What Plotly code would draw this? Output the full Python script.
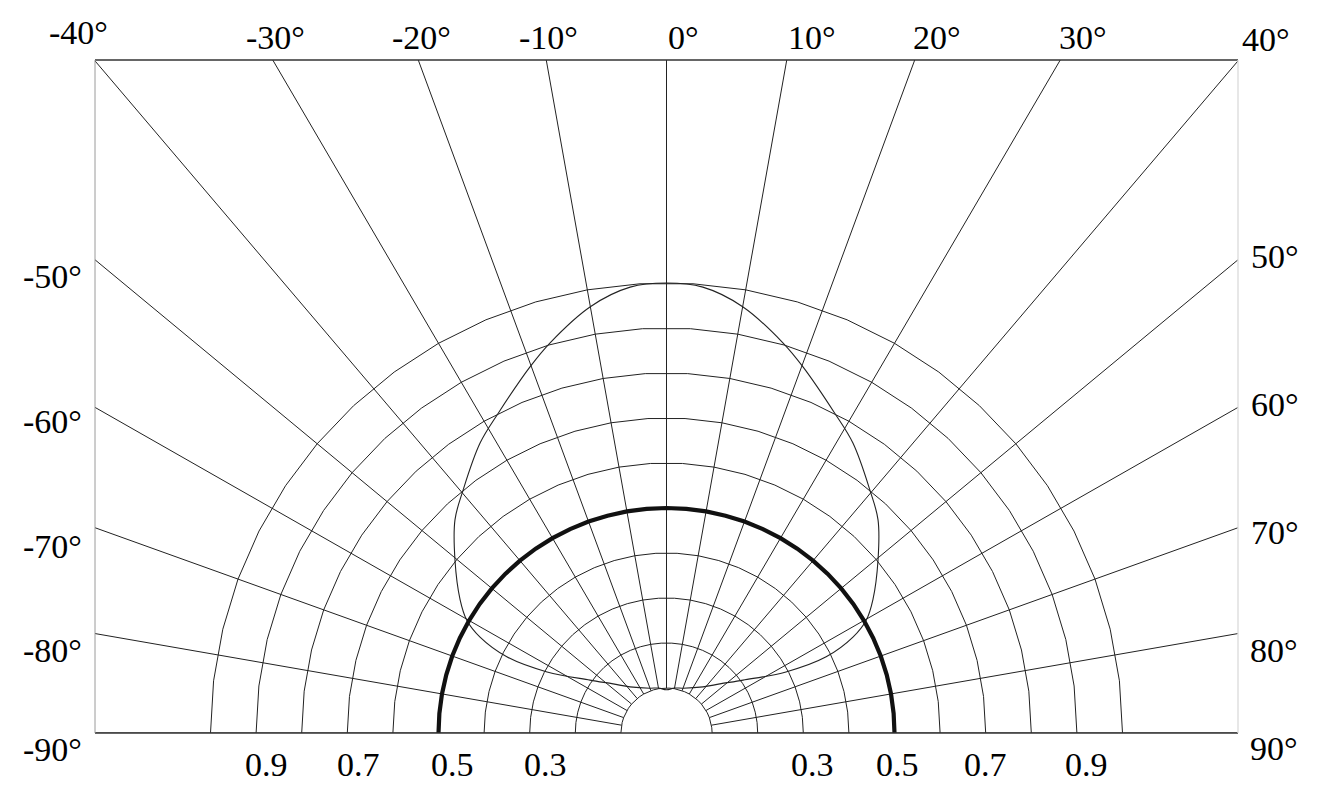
import numpy as np
import plotly.graph_objects as go

# ---------------- data ----------------
ring_values = [0.1, 0.2, 0.3, 0.4, 0.5, 0.6, 0.7, 0.8, 0.9, 1.0]
spoke_angles = [-90, -80, -70, -60, -50, -40, -30, -20, -10, 0, 10, 20, 30, 40, 50, 60, 70, 80, 90]

top_labels = ["-40°", "-30°", "-20°", "-10°", "0°", "10°", "20°", "30°", "40°"]
left_labels = ["-50°", "-60°", "-70°", "-80°", "-90°"]
right_labels = ["50°", "60°", "70°", "80°", "90°"]
bottom_labels = ["0.9", "0.7", "0.5", "0.3", "0.3", "0.5", "0.7", "0.9"]

# thick curve (intensity ~0.5 over the whole half plane)
thick_angles = [-90, -85, -80, -75, -70, -65, -60, -55, -50, -45, -40, -35, -30, -25, -20, -15, -10, -5, 0,
                5, 10, 15, 20, 25, 30, 35, 40, 45, 50, 55, 60, 65, 70, 75, 80, 85, 90]
thick_r = [0.50, 0.50, 0.50, 0.50, 0.50, 0.50, 0.50, 0.50, 0.50, 0.50, 0.50, 0.50, 0.50, 0.50, 0.50, 0.50, 0.50, 0.50, 0.50,
           0.50, 0.50, 0.50, 0.50, 0.50, 0.50, 0.50, 0.50, 0.50, 0.50, 0.50, 0.50, 0.50, 0.50, 0.50, 0.50, 0.50, 0.50]

# thin closed curve (angle in degrees, relative value)
thin_angles = [0, -10, -20, -38, -47, -55, -62.6, -64.2, -62.5, -60.2, -56.8, -50.4, -44.4, -39.6, -32.4, -27.4,
               -20.2, -16.4, -10.0, -4.6, 0, 4.6, 10.0, 16.4, 20.2, 27.4, 32.4, 39.6, 44.4, 50.4, 56.8, 60.2,
               62.5, 64.2, 62.6, 55, 47, 38, 20, 10, 0]
thin_r = [0.096, 0.1015, 0.106, 0.130, 0.160, 0.205, 0.295, 0.389, 0.461, 0.505, 0.541, 0.602, 0.663, 0.700, 0.763, 0.801,
          0.867, 0.904, 0.962, 0.994, 1.0, 0.994, 0.962, 0.904, 0.867, 0.801, 0.763, 0.700, 0.663, 0.602, 0.541, 0.505,
          0.461, 0.389, 0.295, 0.205, 0.160, 0.130, 0.106, 0.1015, 0.096]

# ---------------- layout constants ----------------
X_MAX = 1.2533
Y_MAX = 1.4956
PAGE_OFF = 8  # default body margin of the html page
PLOT_L, PLOT_T, PLOT_W, PLOT_H = 95, 60, 1143, 673
FIG_W, FIG_H = 1324, 784


def to_xy(ang, r):
    a = np.radians(np.asarray(ang, dtype=float))
    r = np.asarray(r, dtype=float)
    return r * np.sin(a), r * np.cos(a)


fig = go.Figure()

# rings
rx, ry = [], []
seg = np.linspace(-90, 90, 28)
for rv in ring_values:
    x, y = to_xy(seg, np.full(seg.shape, rv))
    rx += list(x) + [None]
    ry += list(y) + [None]
fig.add_trace(go.Scatter(x=rx, y=ry, mode="lines", line=dict(color="#222222", width=1), hoverinfo="skip"))

# spokes from inner ring to the frame
sx, sy = [], []
for a in spoke_angles:
    s, c = np.sin(np.radians(a)), np.cos(np.radians(a))
    lims = []
    if abs(s) > 1e-9:
        lims.append(X_MAX / abs(s))
    if c > 1e-9:
        lims.append(Y_MAX / c)
    t_end = min(lims)
    sx += [ring_values[0] * s, t_end * s, None]
    sy += [ring_values[0] * c, t_end * c, None]
fig.add_trace(go.Scatter(x=sx, y=sy, mode="lines", line=dict(color="#222222", width=1), hoverinfo="skip"))

# thin curve
tx, ty = to_xy(thin_angles, thin_r)
fig.add_trace(go.Scatter(x=tx, y=ty, mode="lines", line=dict(color="#222222", width=1.1, shape="spline", smoothing=1.0),
                         hoverinfo="skip"))

# thick curve
kx, ky = to_xy(thick_angles, thick_r)
fig.add_trace(go.Scatter(x=kx, y=ky, mode="lines", line=dict(color="#111111", width=4.2), hoverinfo="skip"))

# frame
shapes = [
    dict(type="line", xref="paper", yref="paper", x0=0, y0=1, x1=1, y1=1, line=dict(color="#333333", width=1.4)),
    dict(type="line", xref="paper", yref="paper", x0=0, y0=0, x1=1, y1=0, line=dict(color="#333333", width=1.6)),
    dict(type="line", xref="paper", yref="paper", x0=0, y0=0, x1=0, y1=1, line=dict(color="#9a9a9a", width=1)),
    dict(type="line", xref="paper", yref="paper", x0=1, y0=0, x1=1, y1=1, line=dict(color="#dddddd", width=1.4)),
]


def px2paper(px, py):
    return (px - PLOT_L) / PLOT_W, (PLOT_T + PLOT_H - py) / PLOT_H


FONT = dict(family="Liberation Serif, Times New Roman, serif", size=34, color="black")
top_pos = [(78, 33), (275, 38), (421, 38), (548, 38), (683, 38), (812, 38), (937, 38), (1083, 38), (1266, 39)]
left_pos = [(52, 276), (52, 421), (52, 546), (52, 650), (52, 749)]
right_pos = [(1275, 257), (1275, 405), (1275, 532), (1274, 650), (1274, 748)]
bottom_pos = [(266, 764), (358, 764), (452, 764), (545, 764), (812, 764), (897, 764), (985, 764), (1086, 764)]

annotations = []
for labels, pos in [(top_labels, top_pos), (left_labels, left_pos), (right_labels, right_pos), (bottom_labels, bottom_pos)]:
    for txt, (px, py) in zip(labels, pos):
        ax, ay = px2paper(px, py)
        annotations.append(dict(text=txt, x=ax, y=ay, xref="paper", yref="paper", xanchor="center", yanchor="middle",
                                showarrow=False, font=FONT))

fig.update_layout(
    width=FIG_W, height=FIG_H,
    margin=dict(l=PLOT_L - PAGE_OFF, r=FIG_W - (PLOT_L - PAGE_OFF) - PLOT_W, t=PLOT_T - PAGE_OFF,
                b=FIG_H - (PLOT_T - PAGE_OFF) - PLOT_H, pad=0),
    paper_bgcolor="white", plot_bgcolor="white",
    showlegend=False, hovermode=False,
    xaxis=dict(range=[-X_MAX, X_MAX], visible=False, fixedrange=True),
    yaxis=dict(range=[0, Y_MAX], visible=False, fixedrange=True),
    shapes=shapes, annotations=annotations,
)

fig.write_html("out.html")
